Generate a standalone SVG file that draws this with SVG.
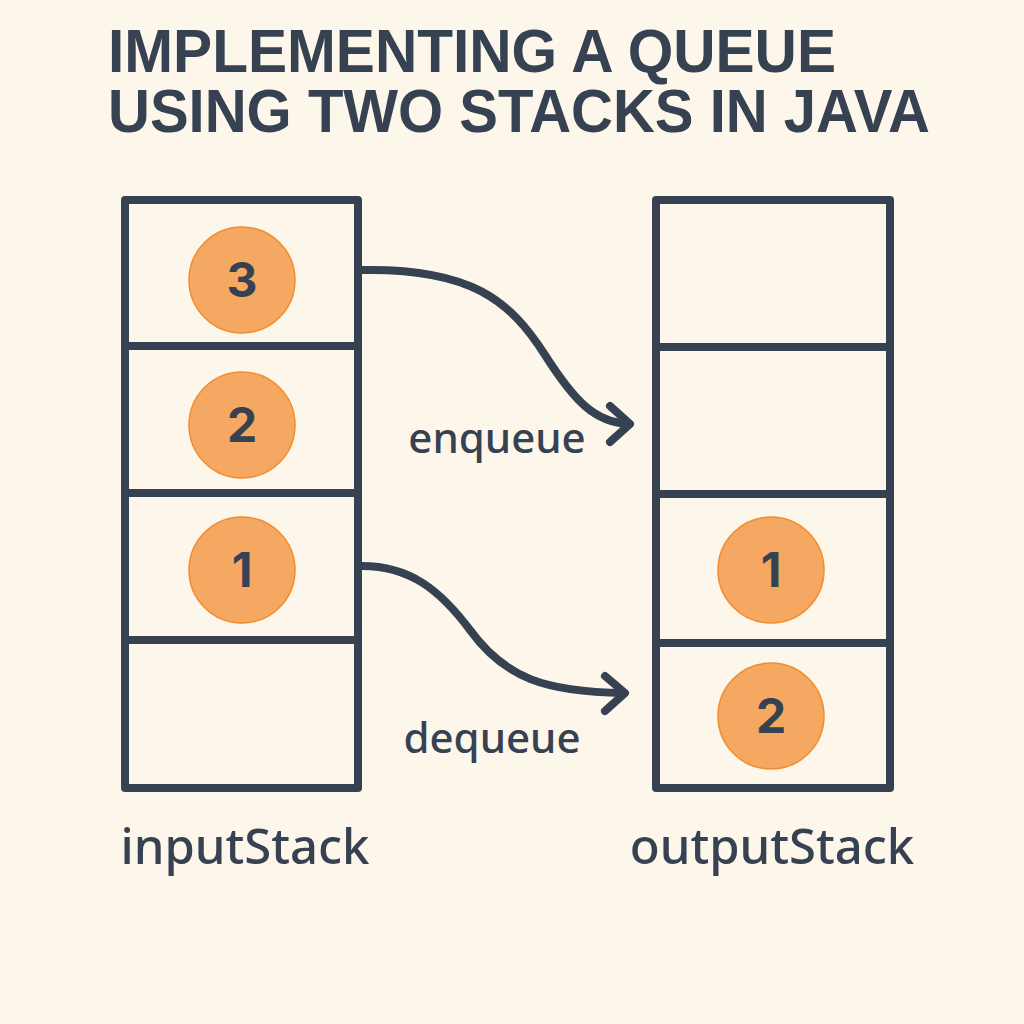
<svg xmlns="http://www.w3.org/2000/svg" width="1024" height="1024" viewBox="0 0 1024 1024">
<style>
.bg{fill:#fdf6ea}
.title{font-family:"Liberation Sans",Arial,sans-serif;font-weight:700;font-size:57px;fill:#364152}
.stack{fill:none;stroke:#364152;stroke-width:8;stroke-linejoin:round}
.div{stroke:#364152;stroke-width:8}
.ball{fill:#f4a862;stroke:#f28c2e;stroke-width:1.5}
.num{font-family:"Inter","Liberation Sans",sans-serif;font-weight:700;font-size:48px;fill:#364152;text-anchor:middle}
.lbl{font-family:"Noto Sans","Liberation Sans",sans-serif;font-weight:500;font-size:42px;fill:#364152;text-anchor:middle}
.name{font-family:"Noto Sans","Liberation Sans",sans-serif;font-weight:500;font-size:49px;fill:#364152;text-anchor:middle}
.conn{fill:none;stroke:#364152;stroke-width:8;stroke-linecap:round;stroke-linejoin:round}
</style>
<rect class="bg" x="0" y="0" width="1024" height="1024"/>
<g id="title">
<text class="title" x="108" y="72" textLength="728" lengthAdjust="spacingAndGlyphs" transform="translate(0,72) scale(1,1.07) translate(0,-72)">IMPLEMENTING A QUEUE</text>
<text class="title" x="108" y="132" textLength="822" lengthAdjust="spacingAndGlyphs" transform="translate(0,132) scale(1,1.07) translate(0,-132)">USING TWO STACKS IN JAVA</text>
</g>
<g id="inputStack">
<rect class="stack" x="125" y="200" width="233" height="588"/>
<line class="div" x1="125" y1="346" x2="358" y2="346"/>
<line class="div" x1="125" y1="493" x2="358" y2="493"/>
<line class="div" x1="125" y1="640" x2="358" y2="640"/>
<circle class="ball" cx="242" cy="280" r="53"/>
<text class="num" x="242" y="297">3</text>
<circle class="ball" cx="242" cy="425" r="53"/>
<text class="num" x="242" y="442">2</text>
<circle class="ball" cx="242" cy="570" r="53"/>
<text class="num" x="242" y="587">1</text>
<text class="name" x="245" y="864">inputStack</text>
</g>
<g id="outputStack">
<rect class="stack" x="656" y="200" width="234" height="588"/>
<line class="div" x1="656" y1="347" x2="890" y2="347"/>
<line class="div" x1="656" y1="494" x2="890" y2="494"/>
<line class="div" x1="656" y1="643" x2="890" y2="643"/>
<circle class="ball" cx="771" cy="570" r="53"/>
<text class="num" x="771" y="587">1</text>
<circle class="ball" cx="771" cy="716" r="53"/>
<text class="num" x="771" y="733">2</text>
<text class="name" x="772" y="864">outputStack</text>
</g>
<g id="connectors">
<path class="conn" d="M362,270 C470,268 510,300 545,355 C575,402 595,422 628,424"/>
<path class="conn" d="M610,406 L630,424 L610,442"/>
<path class="conn" d="M362,566 C410,566 440,590 470,630 C505,678 545,692 624,693"/>
<path class="conn" d="M605,676 L625,693 L605,711"/>
</g>
<g id="labels">
<text class="lbl" x="497" y="453">enqueue</text>
<text class="lbl" x="492" y="753">dequeue</text>
</g>
</svg>
